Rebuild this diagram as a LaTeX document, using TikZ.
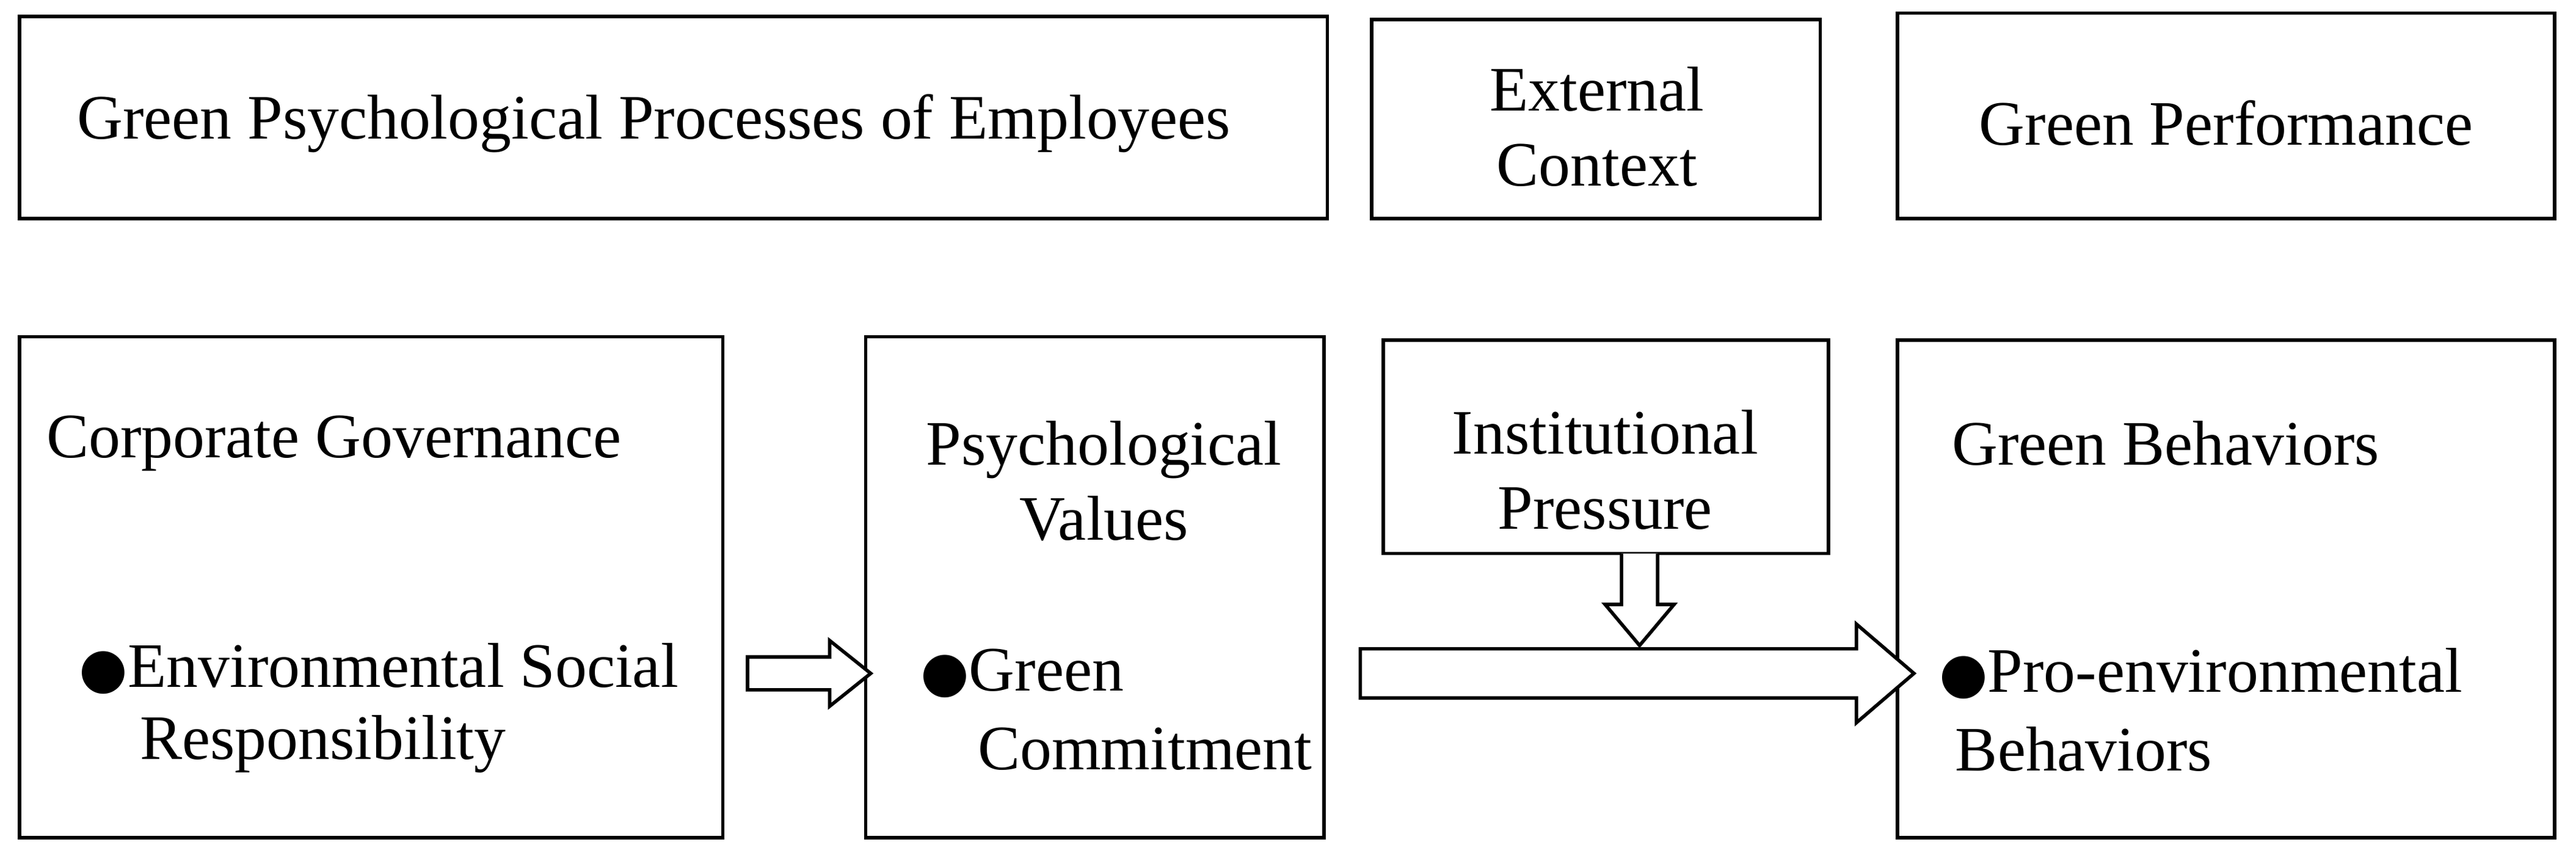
\documentclass[tikz,border=0pt]{standalone}
\usepackage{fontspec}
\setmainfont{Liberation Serif}
\newfontfamily\symfont{DejaVu Sans}
\newcommand{\blt}{{\symfont\fontsize{26}{30}\selectfont\char"25CF}}
\begin{document}
\begin{tikzpicture}[x=0.0269cm,y=-0.0269cm,
  box/.style={draw,line width=1.6pt},
  txt/.style={font=\fontsize{29.5}{35}\selectfont,inner sep=0pt},
  harrow/.style={draw,line width=1.6pt,fill=white,line join=miter}]
\useasboundingbox (0,0) rectangle (1568,521);
\draw[box] (12,10) rectangle (808,133);
\draw[box] (835,12) rectangle (1108,133);
\draw[box] (1155,8) rectangle (1555,133);
\draw[box] (12,205) rectangle (440,510);
\draw[box] (527,205) rectangle (806,510);
\draw[box] (842,207) rectangle (1113,337);
\draw[box] (1155,207) rectangle (1555,510);
\node[txt] (t1) at (398,75) {Green Psychological Processes of Employees};
\node[txt,align=center] (t2) at (972,77) {External\\Context};
\node[txt] (t3) at (1355,75) {Green Performance};
\node[txt,anchor=west] (cg) at (28,270) {Corporate Governance};
\node[txt,anchor=west] (es1) at (48,407) {\blt Environmental Social};
\node[txt,anchor=west] (es2) at (85,453) {Responsibility};
\node[txt,align=center] (pv) at (672,293) {Psychological\\Values};
\node[txt,anchor=west] (gc1) at (560,410) {\blt Green};
\node[txt,anchor=west] (gc2) at (595,456) {Commitment};
\node[txt,align=center] (ip) at (977,286) {Institutional\\Pressure};
\node[txt,anchor=west] (gb) at (1188,270) {Green Behaviors};
\node[txt,anchor=west] (pe1) at (1180,410) {\blt Pro-environmental};
\node[txt,anchor=west] (pe2) at (1190,456) {Behaviors};
% small arrow
\draw[harrow] (455,400) -- (505,400) -- (505,390) -- (530,410) -- (505,430) -- (505,420) -- (455,420) -- cycle;
% big arrow
\draw[harrow] (828,395) -- (1130,395) -- (1130,380) -- (1165,410) -- (1130,440) -- (1130,425) -- (828,425) -- cycle;
% down arrow
\draw[harrow] (987,337) -- (987,368) -- (977,368) -- (998,393) -- (1019,368) -- (1009,368) -- (1009,337);
\end{tikzpicture}
\end{document}
